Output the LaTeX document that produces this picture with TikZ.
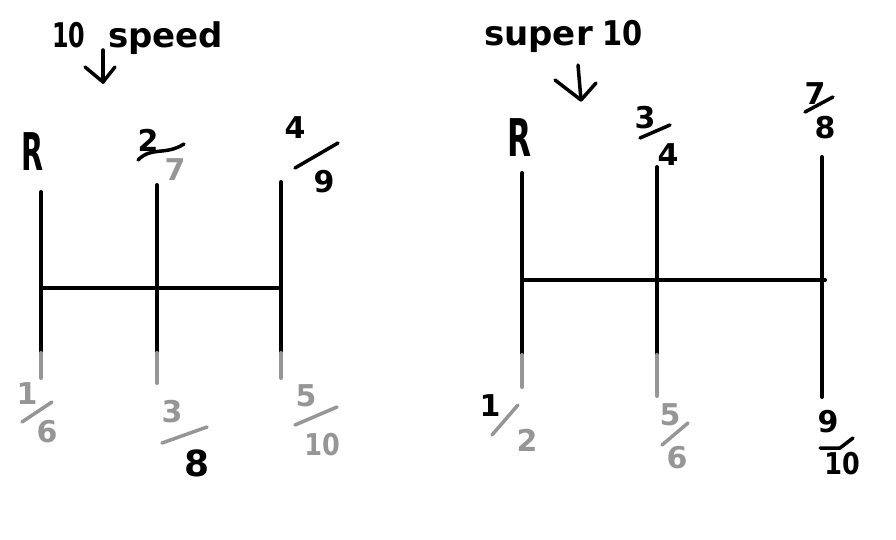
\documentclass[tikz,border=0pt]{standalone}
\usepackage{fontspec}
\setmainfont{DejaVu Sans}
\definecolor{hgray}{RGB}{150,150,150}
\begin{document}
\begin{tikzpicture}[x=1pt,y=-1pt,
  stroke/.style={line width=4pt, line cap=round, line join=round},
  pen/.style={line width=3.5pt, line cap=round, line join=round},
  head/.style={inner sep=0pt, anchor=base west, font=\fontsize{34}{34}\selectfont\bfseries},
  dig/.style={inner sep=0pt, font=\fontsize{30}{30}\selectfont\bfseries},
  rev/.style={inner sep=0pt, font=\fontsize{52}{52}\selectfont\bfseries}
]
\useasboundingbox[fill=white] (0,0) rectangle (896,540);

% ---------- left: 10 speed ----------
\node[head] (t10) at (52,48) {\scalebox{0.7}[1]{10}};
\node[head] (tspeed) at (108,48) {speed};
\draw[pen] (103,50) -- (103,82);
\draw[pen] (85,67) -- (103,82) -- (115,67);

\draw[stroke] (41,192) -- (41,353);
\draw[stroke,hgray] (41,353) -- (41,378);
\draw[stroke] (157,185) -- (157,353);
\draw[stroke,hgray] (157,353) -- (157,383);
\draw[stroke] (281,182) -- (281,353);
\draw[stroke,hgray] (281,353) -- (281,378);
\draw[stroke] (41,288) -- (281,288);

\node[rev] (lR) at (33,152) {\scalebox{0.55}[1]{R}};
\node[dig] (l2) at (148,140) {2};
\draw[pen] (138,160) .. controls (152,146) and (165,156) .. (184,144);
\node[dig,hgray] (l7) at (175,170) {7};
\node[dig] (l4) at (295,128) {4};
\draw[pen] (295,168) -- (338,143);
\node[dig] (l9) at (324,182) {9};

\node[dig,hgray] (l1) at (27,394) {1};
\draw[pen,hgray] (22,422) -- (52,402);
\node[dig,hgray] (l6) at (47,432) {6};
\node[dig,hgray] (l3) at (172,412) {3};
\draw[pen,hgray] (162,443) -- (207,427);
\node[dig,font=\fontsize{36}{36}\selectfont\bfseries] (l8) at (197,463) {8};
\node[dig,hgray] (l5) at (306,396) {5};
\draw[pen,hgray] (295,425) -- (337,407);
\node[dig,hgray] (l10) at (322,445) {\scalebox{0.85}[1]{10}};

% ---------- right: super 10 ----------
\node[head] (tsuper) at (484,46) {super};
\node[head] (t10b) at (602,46) {\scalebox{0.85}[1]{10}};
\draw[pen] (578,65) -- (581,100);
\draw[pen] (555,80) -- (581,100) -- (596,83);

\draw[stroke] (522,173) -- (522,355);
\draw[stroke,hgray] (522,355) -- (522,387);
\draw[stroke] (657,167) -- (657,355);
\draw[stroke,hgray] (657,355) -- (657,396);
\draw[stroke] (822,157) -- (822,397);
\draw[stroke] (522,280) -- (825,280);

\node[rev] (rR) at (520,138) {\scalebox{0.6}[1]{R}};
\node[dig] (r3) at (645,118) {3};
\draw[pen] (640,138) -- (670,125);
\node[dig] (r4) at (668,155) {4};
\node[dig] (r7) at (815,94) {7};
\draw[pen] (805,112) -- (833,97);
\node[dig] (r8) at (825,128) {8};

\node[dig] (r1) at (490,406) {1};
\draw[pen,hgray] (492,435) -- (518,405);
\node[dig,hgray] (r2) at (527,440) {2};
\node[dig,hgray] (r5) at (670,415) {5};
\draw[pen,hgray] (662,445) -- (688,423);
\node[dig,hgray] (r6) at (677,458) {6};
\node[dig] (r9) at (828,422) {9};
\draw[pen] (820,448) -- (840,448) -- (853,438);
\node[dig] (r10) at (842,464) {\scalebox{0.85}[1]{10}};
\end{tikzpicture}
\end{document}
